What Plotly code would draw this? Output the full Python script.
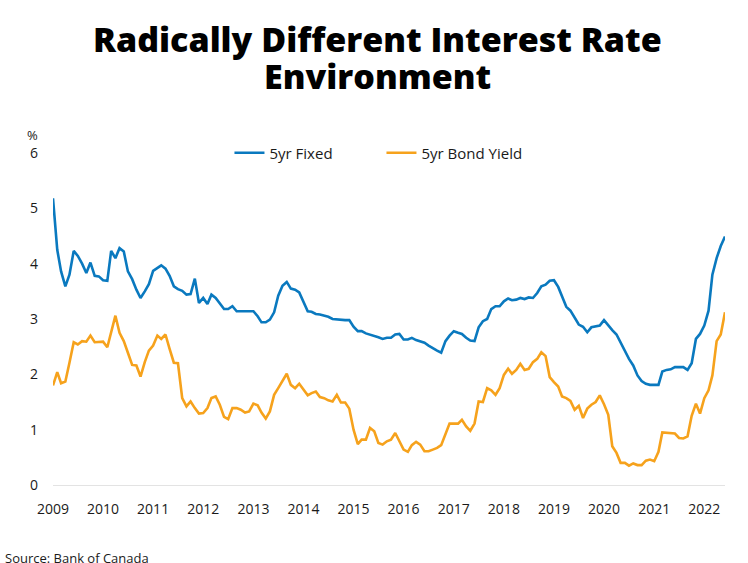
import plotly.graph_objects as go
import pandas as pd

# monthly, Jan 2009 - Jun 2022
months = pd.date_range("2009-01-01", "2022-06-01", freq="MS")

fixed_5yr = [
    5.18, 4.25, 3.86, 3.59, 3.80, 4.23, 4.14, 4.00, 3.83, 4.02, 3.78, 3.77,
    3.70, 3.69, 4.23, 4.10, 4.28, 4.22, 3.86, 3.72, 3.53, 3.38, 3.50, 3.63,
    3.87, 3.92, 3.97, 3.91, 3.78, 3.59, 3.54, 3.51, 3.44, 3.45, 3.73, 3.29,
    3.38, 3.27, 3.44, 3.38, 3.29, 3.18, 3.18, 3.23, 3.14, 3.14, 3.14, 3.14,
    3.14, 3.05, 2.94, 2.94, 2.99, 3.12, 3.42, 3.60, 3.67, 3.55, 3.53, 3.48,
    3.31, 3.14, 3.13, 3.09, 3.08, 3.06, 3.04, 3.00, 2.99, 2.98, 2.98, 2.98,
    2.86, 2.78, 2.78, 2.74, 2.72, 2.70, 2.67, 2.64, 2.66, 2.66, 2.72, 2.73,
    2.63, 2.63, 2.66, 2.62, 2.60, 2.57, 2.52, 2.47, 2.43, 2.39, 2.60, 2.70,
    2.78, 2.75, 2.73, 2.66, 2.61, 2.60, 2.85, 2.96, 3.00, 3.18, 3.23, 3.23,
    3.32, 3.37, 3.34, 3.35, 3.38, 3.36, 3.39, 3.38, 3.47, 3.59, 3.62, 3.69,
    3.70, 3.58, 3.40, 3.22, 3.15, 3.03, 2.90, 2.86, 2.76, 2.85, 2.87, 2.88,
    2.98, 2.88, 2.80, 2.72, 2.57, 2.43, 2.28, 2.16, 1.98, 1.88, 1.83, 1.81,
    1.81, 1.81, 2.05, 2.08, 2.09, 2.13, 2.13, 2.13, 2.08, 2.20, 2.64, 2.73,
    2.88, 3.15, 3.80, 4.10, 4.32, 4.49,
]

bond_5yr = [
    1.80, 2.04, 1.84, 1.87, 2.21, 2.58, 2.54, 2.60, 2.59, 2.70, 2.58, 2.58,
    2.59, 2.49, 2.78, 3.06, 2.75, 2.60, 2.39, 2.17, 2.16, 1.96, 2.22, 2.43,
    2.52, 2.70, 2.64, 2.72, 2.46, 2.21, 2.20, 1.57, 1.42, 1.51, 1.39, 1.29,
    1.30, 1.39, 1.57, 1.60, 1.45, 1.23, 1.19, 1.39, 1.39, 1.36, 1.31, 1.33,
    1.47, 1.44, 1.31, 1.20, 1.33, 1.63, 1.75, 1.87, 2.01, 1.81, 1.75, 1.83,
    1.72, 1.62, 1.66, 1.69, 1.59, 1.57, 1.53, 1.51, 1.63, 1.49, 1.49, 1.38,
    1.00, 0.74, 0.82, 0.82, 1.03, 0.97, 0.76, 0.73, 0.79, 0.82, 0.94, 0.79,
    0.64, 0.60, 0.72, 0.78, 0.73, 0.61, 0.61, 0.64, 0.67, 0.72, 0.91, 1.11,
    1.11, 1.11, 1.18, 1.06, 0.98, 1.11, 1.51, 1.50, 1.75, 1.71, 1.63, 1.75,
    1.99, 2.10, 2.01, 2.08, 2.19, 2.08, 2.10, 2.22, 2.28, 2.40, 2.33, 1.95,
    1.86, 1.78, 1.60, 1.57, 1.52, 1.36, 1.43, 1.21, 1.38, 1.45, 1.50, 1.62,
    1.46, 1.27, 0.70, 0.58, 0.40, 0.40, 0.35, 0.39, 0.36, 0.36, 0.44, 0.46,
    0.43, 0.60, 0.95, 0.94, 0.93, 0.93, 0.85, 0.84, 0.88, 1.25, 1.47, 1.29,
    1.57, 1.71, 1.98, 2.60, 2.72, 3.12,
]

year_ticks = [str(y) for y in range(2009, 2023)]

fig = go.Figure()
fig.add_trace(go.Scatter(x=months, y=fixed_5yr, mode="lines", name="5yr Fixed",
                         line=dict(color="#0a79bf", width=2.6)))
fig.add_trace(go.Scatter(x=months, y=bond_5yr, mode="lines", name="5yr Bond Yield",
                         line=dict(color="#f6a21c", width=2.6)))

fig.update_layout(
    width=748, height=563,
    paper_bgcolor="white", plot_bgcolor="white",
    margin=dict(l=53, r=23, t=153, b=78),
    font=dict(family="Open Sans", size=14, color="#1a1a1a"),
    legend=dict(orientation="h", x=0.2626, xanchor="left", y=1.0, yanchor="middle",
                font=dict(size=15), entrywidth=107, entrywidthmode="pixels",
                bgcolor="rgba(0,0,0,0)"),
    showlegend=True,
)

fig.update_xaxes(
    range=["2009-01-01", "2022-06-01"],
    tickvals=[pd.Timestamp(y + "-01-01") for y in year_ticks],
    ticktext=year_ticks,
    showgrid=False, showline=False, zeroline=False,
    ticklabelstandoff=14,
    tickfont=dict(size=14),
)
fig.update_yaxes(
    range=[0, 6], tickvals=[0, 1, 2, 3, 4, 5, 6],
    showgrid=False, showline=False,
    zeroline=True, zerolinecolor="#e3e3e3", zerolinewidth=1,
    ticklabelstandoff=14,
    tickfont=dict(size=14),
)

# title as two lines, tight spacing
title_font = dict(family="Open Sans", size=34, color="black", weight=800)
fig.add_annotation(text="Radically Different Interest Rate", xref="paper", yref="paper",
                   x=0.483, y=1.0 + (153 - 39) / 332.5, showarrow=False,
                   xanchor="center", yanchor="middle", font=title_font)
fig.add_annotation(text="Environment", xref="paper", yref="paper",
                   x=0.483, y=1.0 + (153 - 76) / 332.5, showarrow=False,
                   xanchor="center", yanchor="middle", font=title_font)

fig.add_annotation(text="%", xref="paper", yref="paper", x=-0.0298, y=1.055,
                   showarrow=False, xanchor="center", yanchor="middle",
                   font=dict(size=13))
fig.add_annotation(text="Source: Bank of Canada", xref="paper", yref="paper",
                   x=-0.0744, y=-0.221, showarrow=False, xanchor="left", yanchor="middle",
                   font=dict(size=13))

fig.write_html("out.html", config={"displayModeBar": False},
               post_script="document.body.style.margin='0px';")
